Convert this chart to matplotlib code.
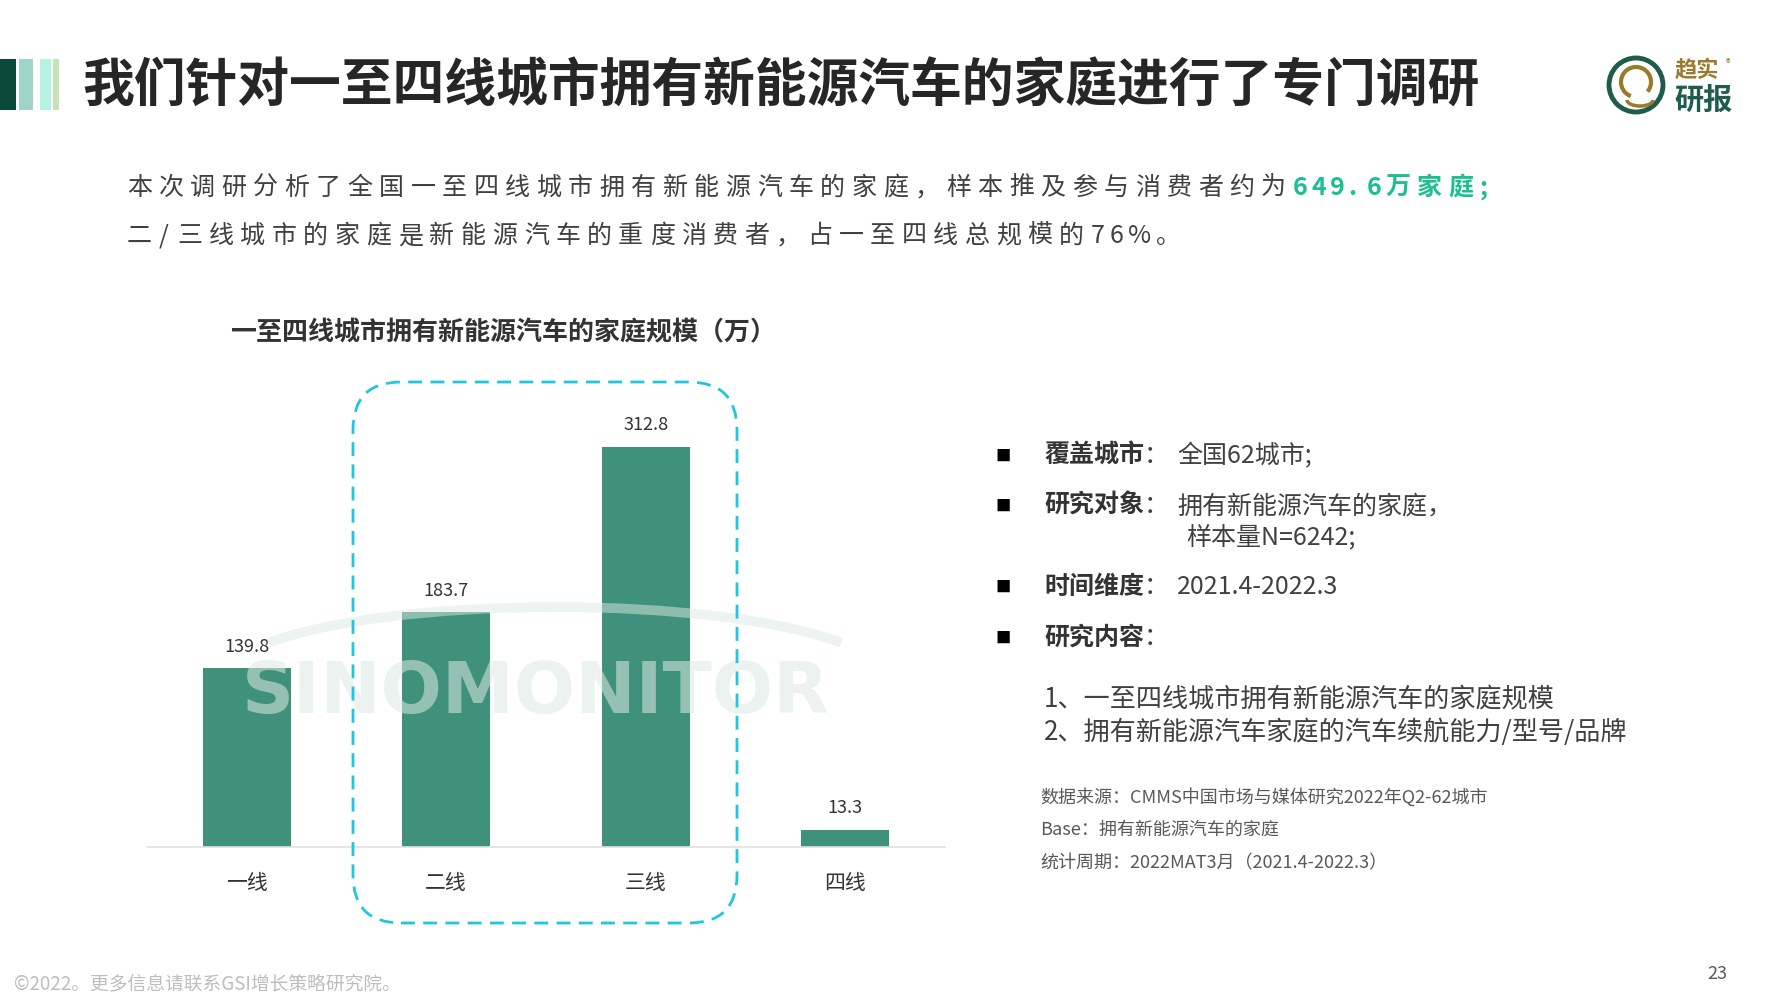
import matplotlib
matplotlib.use("Agg")
import matplotlib.pyplot as plt
from matplotlib.patches import FancyBboxPatch, Rectangle, Circle, Arc
from matplotlib.transforms import IdentityTransform

plt.rcParams['font.family'] = ['Noto Sans CJK SC', 'DejaVu Sans']

W, H = 1778, 1000

categories = ["一线", "二线", "三线", "四线"]
households = [139.8, 183.7, 312.8, 13.3]
value_labels = ["139.8", "183.7", "312.8", "13.3"]

title = "我们针对一至四线城市拥有新能源汽车的家庭进行了专门调研"
intro_1 = "本次调研分析了全国一至四线城市拥有新能源汽车的家庭，样本推及参与消费者约为"
intro_1_hl = "649.6万家庭;"
intro_2 = "二/三线城市的家庭是新能源汽车的重度消费者，占一至四线总规模的76%。"
chart_title = "一至四线城市拥有新能源汽车的家庭规模（万）"
bullets = [("覆盖城市", "全国62城市;"),
           ("研究对象", "拥有新能源汽车的家庭，"),
           ("时间维度", "2021.4-2022.3"),
           ("研究内容", "")]
bullet_extra = "样本量N=6242;"
contents = ["1、一至四线城市拥有新能源汽车的家庭规模",
            "2、拥有新能源汽车家庭的汽车续航能力/型号/品牌"]
notes = ["数据来源：CMMS中国市场与媒体研究2022年Q2-62城市",
         "Base：拥有新能源汽车的家庭",
         "统计周期：2022MAT3月（2021.4-2022.3）"]
footer = "©2022。更多信息请联系GSI增长策略研究院。"
page_no = "23"

BAR = "#40917c"
DARK = "#262626"
GREY = "#404040"

fig = plt.figure(figsize=(W / 100, H / 100), dpi=100)
fig.patch.set_facecolor("white")


def T(x, y, s, **kw):
    # x, y in pixels from the top-left corner
    kw.setdefault("va", "center")
    return fig.text(x / W, 1 - y / H, s, **kw)


def spaced(x, y, s, step_full, step_half, **kw):
    for ch in s:
        T(x, y, ch, ha="left", **kw)
        if ch == "%":
            x += 28
        elif ord(ch) < 128:
            x += step_half
        else:
            x += step_full
    return x


# header stripes
for x0, x1, c in [(0, 16, "#0b4a3a"), (19, 33, "#9fd4c9"),
                  (40, 51, "#b4f2e3"), (53, 59, "#c6e2b6")]:
    fig.patches.append(Rectangle((x0, H - 110), x1 - x0, 51, transform=IdentityTransform(),
                                 facecolor=c, edgecolor="none"))
T(82, 86, title, fontsize=37.3, fontweight="bold", color=DARK)

# logo
fig.patches.append(Circle((1636, H - 85), 27, transform=IdentityTransform(),
                          facecolor="none", edgecolor="#1f5c4b", linewidth=3.5))
fig.patches.append(Arc((1636, H - 82), 30, 30, theta1=-40, theta2=250,
                       transform=IdentityTransform(), edgecolor="#9a7b2e", linewidth=3))
fig.patches.append(Arc((1640, H - 100), 26, 12, theta1=180, theta2=360,
                       transform=IdentityTransform(), edgecolor="#9a7b2e", linewidth=2.5))
T(1675, 70, "趋实", fontsize=16, fontweight="bold", color="#9a7b2e")
T(1726, 64, "®", fontsize=7, color="#9a7b2e")
T(1674, 100, "研报", fontsize=21, fontweight="bold", color="#1f5c4b")

# intro lines with letter spacing
x_end = spaced(127, 188, intro_1, 31.5, 18.6, fontsize=18, color=GREY)
spaced(x_end, 188, intro_1_hl, 31.5, 18.6, fontsize=18, fontweight="bold", color="#1dbf92")
spaced(127, 236, intro_2, 31.5, 18.6, fontsize=18, color=GREY)

T(230, 333, chart_title, fontsize=18.7, fontweight="bold", color="#333333")

# bar chart
ax = fig.add_axes([147 / W, 1 - 847 / H, 798 / W, 447.6 / H])
ax.bar(range(len(categories)), households, width=0.44, color=BAR, zorder=2)
for i, (v, lab) in enumerate(zip(households, value_labels)):
    ax.annotate(lab, (i, v), xytext=(0, 9), textcoords="offset points",
                ha="center", va="bottom", fontsize=13, color="#333333")
ax.set_xlim(-0.5, len(categories) - 0.5)
ax.set_ylim(0, 350)
ax.set_xticks(range(len(categories)), categories, fontsize=15, color="#333333")
ax.tick_params(axis="x", length=0, pad=18)
ax.set_yticks([])
for s in ["left", "right", "top"]:
    ax.spines[s].set_visible(False)
ax.spines["bottom"].set_color("#e0e0e0")
ax.spines["bottom"].set_linewidth(1.2)
ax.patch.set_alpha(0)

# watermark
T(536, 693, "SINOMONITOR", fontsize=52, fontweight="bold", color="#dce9e4",
  alpha=0.55, ha="center", family="DejaVu Sans", zorder=5)
fig.patches.append(Arc((555, H - 678), 660, 142, theta1=7, theta2=173,
                       transform=IdentityTransform(), edgecolor="#dce9e4",
                       linewidth=7, alpha=0.5, zorder=5))

# dashed highlight box round 二线/三线
fig.patches.append(FancyBboxPatch((353, H - 923), 384, 541,
                                  boxstyle="round,pad=0,rounding_size=48",
                                  transform=IdentityTransform(), facecolor="none",
                                  edgecolor="#1fc6dc", linewidth=2, linestyle=(0, (5, 3)),
                                  zorder=6))

# right-hand notes
rows_y = [456, 506, 587, 638]
for (lab, val), y in zip(bullets, rows_y):
    T(1003, y, "■", fontsize=11, color="black", ha="center")
    T(1044, y, lab, fontsize=18, fontweight="bold", color="#333333")
    T(1144, y, "：", fontsize=18, color=GREY)
    T(1177, y, val, fontsize=18, color=GREY)
T(1186, 537, bullet_extra, fontsize=18, color=GREY)
for s, y in zip(contents, [700, 732]):
    T(1044, y, s, fontsize=18.8, color=GREY)
for s, y in zip(notes, [797, 830, 863]):
    T(1040, y, s, fontsize=13, color="#595959", style="italic")

T(14, 984, footer, fontsize=13.5, color="#bdbdbd")
T(1707, 974, page_no, fontsize=13, color="#595959")

fig.savefig("out.png", dpi=100)
